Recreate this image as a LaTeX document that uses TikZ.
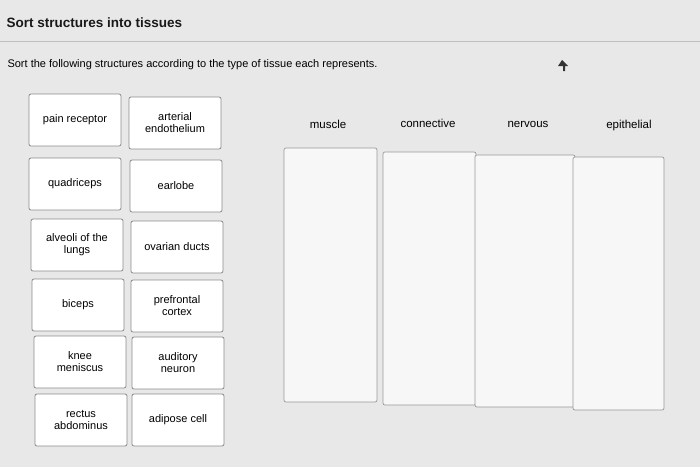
\documentclass[tikz,border=0pt]{standalone}
\usepackage{fontspec}
\setmainfont{Liberation Sans}
\begin{document}
\begin{tikzpicture}[x=1pt,y=-1pt,
  card/.style={draw=black!45,fill=white,rounded corners=2pt,line width=0.8pt,minimum width=92pt,minimum height=52pt,align=center,font=\fontsize{11}{12}\selectfont,text=black},
  bin/.style={draw=black!40,fill=white!97!black,rounded corners=2pt,line width=0.7pt,anchor=north west},
  lab/.style={font=\fontsize{11.5}{13}\selectfont,text=black}]
\fill[black!9] (0,0) rectangle (700,467);
\useasboundingbox (0,0) rectangle (700,467);
\node[anchor=west,font=\bfseries\fontsize{13.5}{16}\selectfont,text=black!90] (title) at (3,23) {Sort structures into tissues};
\draw[black!25] (0,41) -- (700,41);
\node[anchor=west,font=\fontsize{11}{13}\selectfont,text=black] (sub) at (4,65) {Sort the following structures according to the type of tissue each represents.};
\node[card] (c1) at (75,120) {pain receptor};
\node[card] (c2) at (175,123) {arterial\\endothelium};
\node[card] (c3) at (75,184) {quadriceps};
\node[card] (c4) at (176,186) {earlobe};
\node[card] (c5) at (77,245) {alveoli of the\\lungs};
\node[card] (c6) at (177,247) {ovarian ducts};
\node[card] (c7) at (78,305) {biceps};
\node[card] (c8) at (177,306) {prefrontal\\cortex};
\node[card] (c9) at (80,362) {knee\\meniscus};
\node[card] (c10) at (178,363) {auditory\\neuron};
\node[card] (c11) at (81,420) {rectus\\abdominus};
\node[card] (c12) at (178,420) {adipose cell};
\node[lab] (l1) at (328,124) {muscle};
\node[lab] (l2) at (428,123) {connective};
\node[lab] (l3) at (528,124) {nervous};
\node[lab] (l4) at (629,126) {epithelial};
\draw[bin] (284,148) rectangle (377,402);
\draw[bin] (383,152) rectangle (476,405);
\draw[bin] (475,155) rectangle (575,407);
\draw[bin] (573,157) rectangle (664,410);
\fill[black!80] (562,60) -- (568,66) -- (565,66) -- (565,71) -- (563,71) -- (563,66) -- (558,66) -- cycle;
\end{tikzpicture}
\end{document}
